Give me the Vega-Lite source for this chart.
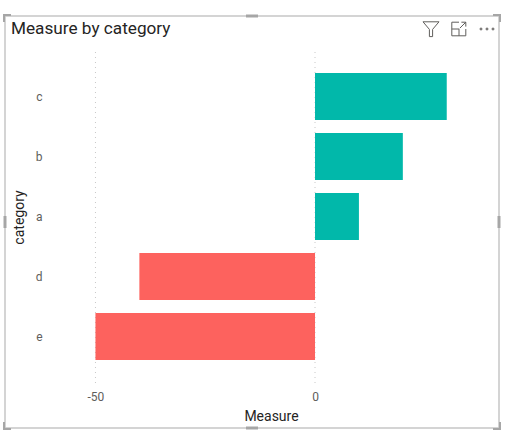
{
"$schema":"https://vega.github.io/schema/vega-lite/v6.json",
"width":494,"height":412,
"autosize":{"type":"none"},
"padding":{"left":5,"top":16,"right":31,"bottom":8},
"background":"white",
"view":{"stroke":"#c6c6c6","strokeWidth":1.5,"fill":"white"},
"title":{"text":"Measure by category","anchor":"start","frame":"group","font":"Roboto","fontSize":17.2,"fontWeight":"normal","color":"#252423","offset":-23,"dx":6},
"resolve":{"scale":{"x":"independent","y":"independent","shape":"independent"}},
"layer":[
{
"data":{"values":[{"category":"c","Measure":30,"sign":"pos"},{"category":"b","Measure":20,"sign":"pos"},{"category":"a","Measure":10,"sign":"pos"},{"category":"d","Measure":-40,"sign":"neg"},{"category":"e","Measure":-50,"sign":"neg"}]},
"layer":[
{"data":{"values":[{"tick":-50,"from":0,"to":1},{"tick":0,"from":0,"to":1}]},
"mark":{"type":"rule","stroke":"#c8c8c8","strokeDash":[1,4],"strokeWidth":1},
"encoding":{"x":{"field":"tick","type":"quantitative","scale":{"domain":[-70.6,41.9],"nice":false,"zero":false},
"axis":{"values":[-50,0],"grid":false,"domain":false,"ticks":false,"offset":-41,"labelPadding":4,"labelFont":"Roboto","labelFontSize":12,"labelColor":"#605E5C","labelExpr":"datum.value<0?'-'+abs(datum.value):''+datum.value","title":"Measure","titleFont":"Roboto","titleFontSize":14,"titleFontWeight":"normal","titleColor":"#252423","titleX":266,"titleY":22}},
"y":{"field":"from","type":"quantitative","scale":{"domain":[-0.1078,1.1258],"reverse":true,"nice":false,"zero":false},"axis":null},
"y2":{"field":"to"}}},
{"mark":{"type":"bar"},
"encoding":{
"x":{"field":"Measure","type":"quantitative","title":"Measure"},
"y":{"field":"category","type":"nominal","sort":["c","b","a","d","e"],"scale":{"range":[50.5,350.5],"paddingInner":0.22,"paddingOuter":0.11},
"axis":{"grid":false,"domain":false,"ticks":false,"offset":-39,"labelPadding":2,"labelFont":"Roboto","labelFontSize":12,"labelColor":"#605E5C","labelAngle":0,"title":"category","titleFont":"Roboto","titleFontSize":14,"titleFontWeight":"normal","titleColor":"#252423","titleX":-18,"titleY":201}},
"color":{"field":"sign","type":"nominal","scale":{"domain":["pos","neg"],"range":["#01B8AA","#FD625E"]},"legend":null}}}
],
"resolve":{"scale":{"y":"independent"}}
},
{
"data":{"values":[
{"h":"left","v":"top","part":"tl"},{"h":"mid","v":"top","part":"hbar"},{"h":"right","v":"top","part":"tr"},
{"h":"left","v":"mid","part":"vbar"},{"h":"right","v":"mid","part":"vbar"},
{"h":"left","v":"bottom","part":"bl"},{"h":"mid","v":"bottom","part":"hbar"},{"h":"right","v":"bottom","part":"br"}]},
"mark":{"type":"point","filled":true,"size":144,"opacity":1,"color":"#a6a6a6"},
"encoding":{
"x":{"field":"h","type":"ordinal","sort":["left","mid","right"],"scale":{"type":"point","padding":0},"axis":null},
"y":{"field":"v","type":"ordinal","sort":["top","mid","bottom"],"scale":{"type":"point","padding":0},"axis":null},
"shape":{"field":"part","type":"nominal","legend":null,"scale":{"domain":["tl","tr","bl","br","hbar","vbar"],"range":[
"M0 0H1V-0.33H-0.33V1H0Z","M0 0H-1V-0.33H0.33V1H0Z","M0 0H1V0.33H-0.33V-1H0Z","M0 0H-1V0.33H0.33V-1H0Z","M-1 -0.25H1V0.25H-1Z","M-0.25 -1H0.25V1H-0.25Z"]}}}
},
{
"data":{"values":[{"icon":"funnel","row":"r"},{"icon":"focus","row":"r"},{"icon":"more","row":"r"}]},
"mark":{"type":"point","filled":false,"size":256,"opacity":1,"strokeWidth":1,"color":"#605E5C"},
"encoding":{
"x":{"field":"icon","type":"ordinal","sort":["funnel","focus","more"],"scale":{"type":"point","range":[426,482],"padding":0},"axis":null},
"y":{"field":"row","type":"ordinal","scale":{"type":"point","range":[13,13],"padding":0},"axis":null},
"shape":{"field":"icon","type":"nominal","legend":null,"scale":{"domain":["funnel","focus","more"],"range":[
"M-1 -0.9H1L0.2 0.05V0.95H-0.2V0.05Z",
"M0 -0.85H-0.9V0.85H0.85V0M-0.9 0H0V0.85M0.1 -0.1L0.85 -0.85M0.3 -0.85H0.85V-0.3",
"M-0.85 -0.1H-0.65V0.1H-0.85ZM-0.1 -0.1H0.1V0.1H-0.1ZM0.65 -0.1H0.85V0.1H0.65Z"]}}}
}
]
}
